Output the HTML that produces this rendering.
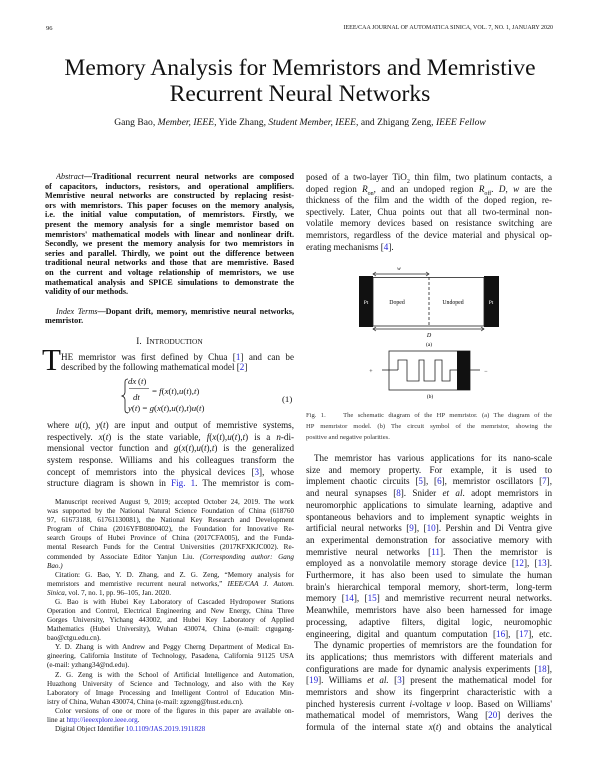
<!DOCTYPE html>
<html><head><meta charset="utf-8">
<style>
html,body{margin:0;padding:0;background:#fff}
body{width:600px;height:776px;position:relative;overflow:hidden;font-family:"Liberation Serif",serif;color:#111}
.l{position:absolute;height:12px;line-height:12px;overflow:hidden;text-align:justify;text-align-last:justify;white-space:normal}
.n{text-align:left;text-align-last:left}
.L{left:47px;width:247px}
.R{left:306px;width:246px}
.b{font-size:9.1px}
.a{font-size:8.2px;font-weight:bold}
.f{font-size:7.15px;height:10px;line-height:10px}
.c{font-size:6.6px;color:#333;height:10px;line-height:10px}
a,.k{color:#2424d8;text-decoration:none}
i{font-style:italic}
</style></head><body>

<div style="position:absolute;left:46px;top:25px;font-size:6.5px">96</div>
<div style="position:absolute;left:311px;width:242px;top:25px;font-size:6px;text-align:right">IEEE/CAA JOURNAL OF AUTOMATICA SINICA, VOL. 7, NO. 1, JANUARY 2020</div>

<div style="position:absolute;left:0;width:600px;top:55px;font-size:23.6px;line-height:26px;text-align:center">Memory Analysis for Memristors and Memristive<br>Recurrent Neural Networks</div>
<div style="position:absolute;left:0;width:600px;top:117px;font-size:9.6px;text-align:center">Gang Bao, <i>Member, IEEE</i>, Yide Zhang, <i>Student Member, IEEE</i>, and Zhigang Zeng, <i>IEEE Fellow</i></div>

<!-- abstract -->
<div class="l a" style="left:56px;width:238px;top:171px"><i style="font-weight:normal">Abstract</i>—Traditional recurrent neural networks are composed</div>
<div class="l a" style="left:45px;width:249px;top:180.6px">of capacitors, inductors, resistors, and operational amplifiers.</div>
<div class="l a" style="left:45px;width:249px;top:190.2px">Memristive neural networks are constructed by replacing resist-</div>
<div class="l a" style="left:45px;width:249px;top:199.8px">ors with memristors. This paper focuses on the memory analysis,</div>
<div class="l a" style="left:45px;width:249px;top:209.4px">i.e. the initial value computation, of memristors. Firstly, we</div>
<div class="l a" style="left:45px;width:249px;top:219px">present the memory analysis for a single memristor based on</div>
<div class="l a" style="left:45px;width:249px;top:228.6px">memristors' mathematical models with linear and nonlinear drift.</div>
<div class="l a" style="left:45px;width:249px;top:238.2px">Secondly, we present the memory analysis for two memristors in</div>
<div class="l a" style="left:45px;width:249px;top:247.8px">series and parallel. Thirdly, we point out the difference between</div>
<div class="l a" style="left:45px;width:249px;top:257.4px">traditional neural networks and those that are memristive. Based</div>
<div class="l a" style="left:45px;width:249px;top:267px">on the current and voltage relationship of memristors, we use</div>
<div class="l a" style="left:45px;width:249px;top:276.6px">mathematical analysis and SPICE simulations to demonstrate the</div>
<div class="l a n" style="left:45px;width:249px;top:286.2px">validity of our methods.</div>
<div class="l a" style="left:56px;width:238px;top:306px"><i style="font-weight:normal">Index Terms</i>—Dopant drift, memory, memristive neural networks,</div>
<div class="l a n" style="left:45px;width:249px;top:315px">memristor.</div>

<div style="position:absolute;left:45px;width:249px;top:336px;font-size:9.2px;text-align:center">I.&nbsp;&nbsp;I<span style="font-size:7.4px">NTRODUCTION</span></div>

<div style="position:absolute;left:42px;top:344px;font-size:31px;line-height:31px">T</div>
<div class="l b" style="left:61px;width:233px;top:351px">HE memristor was first defined by Chua [<span class="k">1</span>] and can be</div>
<div class="l b n" style="left:61px;width:233px;top:361px">described by the following mathematical model [<span class="k">2</span>]</div>

<!-- equation -->
<svg style="position:absolute;left:0;top:0" width="600" height="776">
<path d="M128,379 q-3,0 -3,3 v10 q0,3 -3,4 q3,1 3,4 v10 q0,3 3,3" fill="none" stroke="#111" stroke-width="0.8"/>
<line x1="129" y1="388.5" x2="149" y2="388.5" stroke="#111" stroke-width="0.6"/>
</svg>
<div style="position:absolute;left:128px;top:376px;font-size:8.8px;font-style:italic">dx</div><div style="position:absolute;left:138px;top:376px;font-size:8.8px">(<i>t</i>)</div>
<div style="position:absolute;left:133px;top:392px;font-size:8.8px;font-style:italic">dt</div>
<div style="position:absolute;left:152px;top:386px;font-size:8.8px">= <i>f</i>(<i>x</i>(<i>t</i>),<i>u</i>(<i>t</i>),<i>t</i>)</div>
<div style="position:absolute;left:128px;top:403px;font-size:8.8px"><i>y</i>(<i>t</i>) = <i>g</i>(<i>x</i>(<i>t</i>),<i>u</i>(<i>t</i>),<i>t</i>)<i>u</i>(<i>t</i>)</div>
<div style="position:absolute;left:282px;top:394px;font-size:8.8px">(1)</div>

<div class="l b L" style="top:419px">where <i>u</i>(<i>t</i>), <i>y</i>(<i>t</i>) are input and output of memristive systems,</div>
<div class="l b L" style="top:431px">respectively. <i>x</i>(<i>t</i>) is the state variable, <i>f</i>(<i>x</i>(<i>t</i>),<i>u</i>(<i>t</i>),<i>t</i>) is a <i>n</i>-di-</div>
<div class="l b L" style="top:442px">mensional vector function and <i>g</i>(<i>x</i>(<i>t</i>),<i>u</i>(<i>t</i>),<i>t</i>) is the generalized</div>
<div class="l b L" style="top:454px">system response. Williams and his colleagues transform the</div>
<div class="l b L" style="top:466px">concept of memristors into the physical devices [<span class="k">3</span>], whose</div>
<div class="l b L" style="top:477px">structure diagram is shown in <span class="k">Fig. 1</span>. The memristor is com-</div>

<!-- footnotes -->
<div class="l f" style="left:55px;width:239px;top:497px">Manuscript received August 9, 2019; accepted October 24, 2019. The work</div>
<div class="l f L" style="top:506.1px">was supported by the National Natural Science Foundation of China (618760</div>
<div class="l f L" style="top:515.2px">97, 61673188, 61761130081), the National Key Research and Development</div>
<div class="l f L" style="top:524.2px">Program of China (2016YFB0800402), the Foundation for Innovative Re-</div>
<div class="l f L" style="top:533.3px">search Groups of Hubei Province of China (2017CFA005), and the Funda-</div>
<div class="l f L" style="top:542.4px">mental Research Funds for the Central Universities (2017KFXKJC002). Re-</div>
<div class="l f L" style="top:551.5px">commended by Associate Editor Yanjun Liu. <i>(Corresponding author: Gang</i></div>
<div class="l f L n" style="top:560.6px"><i>Bao.)</i></div>
<div class="l f" style="left:55px;width:239px;top:569.6px">Citation: G. Bao, Y. D. Zhang, and Z. G. Zeng, “Memory analysis for</div>
<div class="l f L" style="top:578.7px">memristors and memristive recurrent neural networks,” <i>IEEE/CAA J. Autom.</i></div>
<div class="l f L n" style="top:587.8px"><i>Sinica</i>, vol. 7, no. 1, pp. 96–105, Jan. 2020.</div>
<div class="l f" style="left:55px;width:239px;top:596.9px">G. Bao is with Hubei Key Laboratory of Cascaded Hydropower Stations</div>
<div class="l f L" style="top:606px">Operation and Control, Electrical Engineering and New Energy, China Three</div>
<div class="l f L" style="top:615px">Gorges University, Yichang 443002, and Hubei Key Laboratory of Applied</div>
<div class="l f L" style="top:624.1px">Mathematics (Hubei University), Wuhan 430074, China (e-mail: ctgugang-</div>
<div class="l f L n" style="top:633.2px">bao@ctgu.edu.cn).</div>
<div class="l f" style="left:55px;width:239px;top:642.3px">Y. D. Zhang is with Andrew and Peggy Cherng Department of Medical En-</div>
<div class="l f L" style="top:651.4px">gineering, California Institute of Technology, Pasadena, California 91125 USA</div>
<div class="l f L n" style="top:660.4px">(e-mail: yzhang34@nd.edu).</div>
<div class="l f" style="left:55px;width:239px;top:669.5px">Z. G. Zeng is with the School of Artificial Intelligence and Automation,</div>
<div class="l f L" style="top:678.6px">Huazhong University of Science and Technology, and also with the Key</div>
<div class="l f L" style="top:687.7px">Laboratory of Image Processing and Intelligent Control of Education Min-</div>
<div class="l f L n" style="top:696.8px">istry of China, Wuhan 430074, China (e-mail: zgzeng@hust.edu.cn).</div>
<div class="l f" style="left:55px;width:239px;top:705.8px">Color versions of one or more of the figures in this paper are available on-</div>
<div class="l f L n" style="top:714.9px">line at <span class="k">http://ieeexplore.ieee.org</span>.</div>
<div class="l f n" style="left:55px;width:239px;top:724px">Digital Object Identifier <span class="k">10.1109/JAS.2019.1911828</span></div>

<!-- right column top -->
<div class="l b R" style="top:171px">posed of a two-layer TiO<sub style="font-size:6px;line-height:0">2</sub> thin film, two platinum contacts, a</div>
<div class="l b R" style="top:182.6px">doped region <i>R</i><sub style="font-size:6px;line-height:0">on</sub>, and an undoped region <i>R</i><sub style="font-size:6px;line-height:0">off</sub>. <i>D</i>, <i>w</i> are the</div>
<div class="l b R" style="top:194.2px">thickness of the film and the width of the doped region, re-</div>
<div class="l b R" style="top:205.8px">spectively. Later, Chua points out that all two-terminal non-</div>
<div class="l b R" style="top:217.4px">volatile memory devices based on resistance switching are</div>
<div class="l b R" style="top:229px">memristors, regardless of the device material and physical op-</div>
<div class="l b R n" style="top:240.6px">erating mechanisms [<span class="k">4</span>].</div>

<!-- figure -->
<svg style="position:absolute;left:0;top:0" width="600" height="776" font-family="Liberation Serif, serif">
<rect x="359" y="276" width="14" height="51" fill="#111"/>
<rect x="484" y="276" width="15" height="51" fill="#111"/>
<rect x="373" y="277.5" width="111" height="48.5" fill="none" stroke="#222" stroke-width="0.8"/>
<line x1="429" y1="277" x2="429" y2="326" stroke="#222" stroke-width="0.8" stroke-dasharray="3,2"/>
<line x1="373" y1="274" x2="429" y2="274" stroke="#222" stroke-width="0.7"/>
<path d="M376,272 L373,274 L376,276 M426,272 L429,274 L426,276" fill="none" stroke="#222" stroke-width="0.7"/>
<line x1="373" y1="329" x2="484" y2="329" stroke="#222" stroke-width="0.7"/>
<path d="M376,327 L373,329 L376,331 M481,327 L484,329 L481,331" fill="none" stroke="#222" stroke-width="0.7"/>
<text x="399" y="270" font-size="5.5" font-style="italic" text-anchor="middle">w</text>
<text x="366" y="304" font-size="5.5" fill="#fff" text-anchor="middle">Pt</text>
<text x="491" y="304" font-size="5.5" fill="#fff" text-anchor="middle">Pt</text>
<text x="397" y="304" font-size="5.8" text-anchor="middle">Doped</text>
<text x="453" y="304" font-size="5.8" text-anchor="middle">Undoped</text>
<text x="429" y="337" font-size="6" font-style="italic" text-anchor="middle">D</text>
<text x="429" y="346" font-size="5.5" text-anchor="middle">(a)</text>
<rect x="389" y="351" width="81" height="39" fill="none" stroke="#222" stroke-width="0.8"/>
<rect x="457" y="351" width="13" height="39" fill="#111"/>
<line x1="382" y1="370" x2="398" y2="370" stroke="#222" stroke-width="0.8"/>
<line x1="470" y1="370" x2="480" y2="370" stroke="#222" stroke-width="0.8"/>
<polyline points="398,370 398,360 407,360 407,381 419,381 419,360 424,360 424,381 435,381 435,360 442,360 442,381 450,381 450,370 457,370" fill="none" stroke="#222" stroke-width="0.8"/>
<text x="371" y="373" font-size="6" text-anchor="middle">+</text>
<text x="486" y="373" font-size="6" text-anchor="middle">−</text>
<text x="430" y="398" font-size="5.5" text-anchor="middle">(b)</text>
</svg>

<div class="l c R" style="top:411px">Fig. 1.&nbsp;&nbsp;&nbsp; The schematic diagram of the HP memristor. (a) The diagram of the</div>
<div class="l c R" style="top:422px">HP memristor model. (b) The circuit symbol of the memristor, showing the</div>
<div class="l c R n" style="top:433px">positive and negative polarities.</div>

<!-- right column lower -->
<div class="l b" style="left:314px;width:238px;top:452px">The memristor has various applications for its nano-scale</div>
<div class="l b R" style="top:463.7px">size and memory property. For example, it is used to</div>
<div class="l b R" style="top:475.4px">implement chaotic circuits [<span class="k">5</span>], [<span class="k">6</span>], memristor oscillators [<span class="k">7</span>],</div>
<div class="l b R" style="top:487.1px">and neural synapses [<span class="k">8</span>]. Snider <i>et al</i>. adopt memristors in</div>
<div class="l b R" style="top:498.8px">neuromorphic applications to simulate learning, adaptive and</div>
<div class="l b R" style="top:510.5px">spontaneous behaviors and to implement synaptic weights in</div>
<div class="l b R" style="top:522.2px">artificial neural networks [<span class="k">9</span>], [<span class="k">10</span>]. Pershin and Di Ventra give</div>
<div class="l b R" style="top:533.9px">an experimental demonstration for associative memory with</div>
<div class="l b R" style="top:545.6px">memristive neural networks [<span class="k">11</span>]. Then the memristor is</div>
<div class="l b R" style="top:557.3px">employed as a nonvolatile memory storage device [<span class="k">12</span>], [<span class="k">13</span>].</div>
<div class="l b R" style="top:569px">Furthermore, it has also been used to simulate the human</div>
<div class="l b R" style="top:580.7px">brain's hierarchical temporal memory, short-term, long-term</div>
<div class="l b R" style="top:592.4px">memory [<span class="k">14</span>], [<span class="k">15</span>] and memristive recurrent neural networks.</div>
<div class="l b R" style="top:604.1px">Meanwhile, memristors have also been harnessed for image</div>
<div class="l b R" style="top:615.8px">processing, adaptive filters, digital logic, neuromophic</div>
<div class="l b R" style="top:627.5px">engineering, digital and quantum computation [<span class="k">16</span>], [<span class="k">17</span>], etc.</div>
<div class="l b" style="left:314px;width:238px;top:639.2px">The dynamic properties of memristors are the foundation for</div>
<div class="l b R" style="top:650.9px">its applications; thus memristors with different materials and</div>
<div class="l b R" style="top:662.6px">configurations are made for dynamic analysis experiments [<span class="k">18</span>],</div>
<div class="l b R" style="top:674.3px">[<span class="k">19</span>]. Williams <i>et al.</i> [<span class="k">3</span>] present the mathematical model for</div>
<div class="l b R" style="top:686px">memristors and show its fingerprint characteristic with a</div>
<div class="l b R" style="top:697.7px">pinched hysteresis current <i>i</i>-voltage <i>v</i> loop. Based on Williams'</div>
<div class="l b R" style="top:709.4px">mathematical model of memristors, Wang [<span class="k">20</span>] derives the</div>
<div class="l b R" style="top:721.1px">formula of the internal state <i>x</i>(<i>t</i>) and obtains the analytical</div>

</body></html>
